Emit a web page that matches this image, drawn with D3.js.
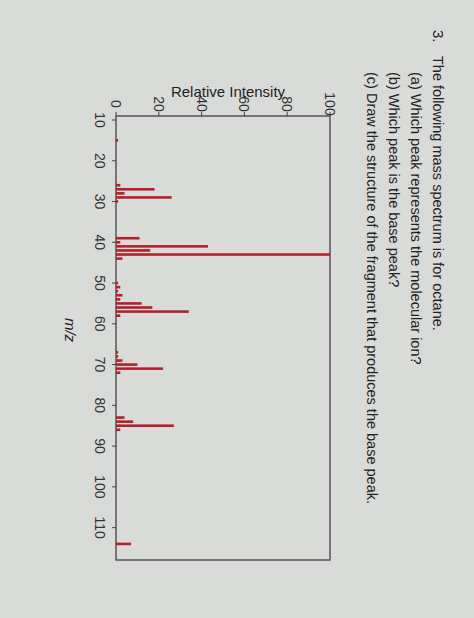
<!DOCTYPE html>
<html><head><meta charset="utf-8">
<script src="https://cdn.jsdelivr.net/npm/d3@7/dist/d3.min.js"></script>
<style>body{margin:0;background:#d9dbd8;}svg{display:block}</style>
</head><body>
<svg id="c" width="474" height="618"></svg>
<script>
const mz = [15,26,27,28,29,30,39,40,41,42,43,44,50,51,52,53,54,55,56,57,58,67,68,69,70,71,72,83,84,85,86,114];
const intensity = [1,2,18,4,26,1,11,2,43,16,100,3,1,2,1,3,2,12,17,34,2,1,1,3,10,22,2,4,8,27,2,7];
const mzTicks = [10,20,30,40,50,60,70,80,90,100,110];
const intTicks = [0,20,40,60,80,100];
const questions = ["The following mass spectrum is for octane.","(a) Which peak represents the molecular ion?","(b) Which peak is the base peak?","(c) Draw the structure of the fragment that produces the base peak."];

const svg = d3.select("#c");
const F = "Liberation Sans, Arial, sans-serif";
const y = d3.scaleLinear().domain([10,115]).range([120,548]);
const x = d3.scaleLinear().domain([0,100]).range([116,330]);

svg.append("rect").attr("x",x(0)).attr("y",116).attr("width",x(100)-x(0)).attr("height",444)
  .attr("fill","none").attr("stroke","#555").attr("stroke-width",1.5);

svg.selectAll(".bar").data(mz).join("rect")
  .attr("x",x(0)).attr("y",(d)=>y(d)-1.3).attr("height",2.6)
  .attr("width",(d,i)=>x(intensity[i])-x(0)).attr("fill","#b3202c");

const ga = svg.append("g");
mzTicks.forEach(t=>{
  ga.append("line").attr("x1",x(0)-4).attr("x2",x(0)).attr("y1",y(t)).attr("y2",y(t)).attr("stroke","#444");
  ga.append("text").attr("transform",`translate(${x(0)-16},${y(t)}) rotate(90)`)
    .attr("text-anchor","middle").attr("dominant-baseline","central")
    .attr("font-family",F).attr("font-size",14).attr("fill","#333").text(t);
});
intTicks.forEach(t=>{
  ga.append("line").attr("x1",x(t)).attr("x2",x(t)).attr("y1",112).attr("y2",116).attr("stroke","#444");
  ga.append("text").attr("transform",`translate(${x(t)},${104}) rotate(90)`)
    .attr("text-anchor","middle").attr("dominant-baseline","central")
    .attr("font-family",F).attr("font-size",14).attr("fill","#333").text(t);
});
svg.append("text").attr("x",228).attr("y",97).attr("text-anchor","middle")
  .attr("font-family",F).attr("font-size",15).attr("fill","#222").text("Relative Intensity");
svg.append("text").attr("transform","translate(70,330) rotate(90)").attr("text-anchor","middle")
  .attr("dominant-baseline","central").attr("font-family",F).attr("font-size",15)
  .attr("font-style","italic").attr("fill","#222").text("m/z");

svg.append("text").attr("transform","translate(438,30) rotate(90)").attr("dominant-baseline","central")
  .attr("font-family",F).attr("font-size",15).attr("fill","#222").text("3.");
const qx=[438,416,394,372], qy=[56,72,72,72];
questions.forEach((q,i)=>{
  svg.append("text").attr("transform",`translate(${qx[i]},${qy[i]}) rotate(90)`).attr("dominant-baseline","central")
    .attr("font-family",F).attr("font-size",14.5).attr("fill","#222").text(q);
});
</script>
</body></html>
